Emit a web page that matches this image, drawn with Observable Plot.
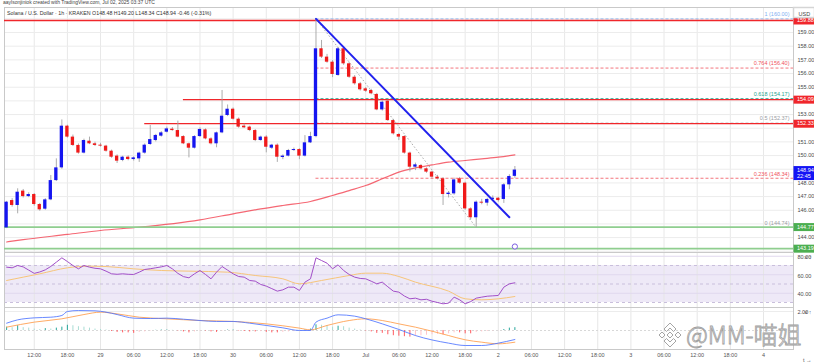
<!DOCTYPE html>
<html><head><meta charset="utf-8">
<script src="https://cdn.jsdelivr.net/npm/d3@7"></script>
<script src="https://cdn.jsdelivr.net/npm/@observablehq/plot@0.6"></script>
<style>
body{margin:0;background:#fff}
#root{position:relative;width:814px;height:364px;overflow:hidden;background:#fff;font-family:"Liberation Sans",Arial,sans-serif}
.txt{position:absolute;white-space:nowrap}
</style></head><body><div id="root"></div>
<script>
// ---------------- DATA ----------------
const firstBar = "2025-06-28T07:00:00Z"; // hourly bars, SOL/USD 1h KRAKEN
const opens  = [144.71,146.71,146.35,147.40,147.00,147.15,146.42,146.08,146.76,148.17,
  149.10,152.15,151.35,150.74,150.18,151.05,150.86,150.76,150.69,150.32,
  149.96,149.64,149.88,149.71,149.76,150.18,150.81,151.10,151.42,151.71,
  151.93,151.83,151.39,150.86,150.54,151.39,151.88,151.22,150.86,151.66,
  152.93,153.39,152.66,152.15,152.08,151.83,151.10,151.35,150.54,150.76,
  149.86,149.96,150.37,150.44,149.96,150.93,151.39,157.81,157.20,156.83,
  155.86,157.81,156.71,155.73,155.25,154.88,154.76,154.47,153.34,153.98,
  152.56,151.54,151.39,150.18,149.15,149.27,149.03,148.79,148.42,148.30,
  147.15,147.20,148.30,147.98,146.10,145.45,146.59,146.52,146.79,146.88,
  146.79,147.86,148.48];
const highs  = [146.65,146.85,147.57,147.52,147.28,147.22,146.50,146.85,148.54,149.76,
  152.61,152.22,151.50,150.85,151.20,151.35,150.98,150.90,150.75,150.40,
  150.05,149.95,149.98,149.90,150.25,150.85,152.20,151.55,151.75,152.08,
  152.05,152.52,151.45,150.92,151.45,152.03,151.95,151.30,151.72,154.76,
  153.70,153.48,152.75,152.30,152.15,151.90,151.42,151.45,150.82,150.85,
  150.05,150.45,150.55,150.50,151.46,151.70,160.00,158.42,157.40,156.95,
  157.90,157.95,156.80,155.85,155.35,154.98,154.85,154.55,154.00,154.05,
  152.65,151.62,151.45,150.25,149.45,149.35,149.10,148.85,148.55,148.38,
  147.35,148.35,148.40,148.05,146.18,146.68,146.80,146.88,147.05,146.95,
  147.95,148.60,149.20];
const lows   = [144.66,146.23,145.74,146.90,146.92,146.30,145.93,146.00,146.70,148.10,
  149.00,151.28,150.66,150.10,150.12,150.80,150.66,150.62,150.25,149.80,
  149.42,149.55,149.62,149.60,149.50,150.10,150.75,151.00,151.35,151.65,
  151.78,151.30,150.80,149.83,150.48,151.33,151.15,150.78,150.57,151.60,
  152.85,152.60,152.00,151.98,151.75,151.02,151.05,150.20,150.45,149.50,
  149.70,149.90,150.30,149.70,149.90,150.88,151.30,157.10,156.75,155.70,
  155.80,156.60,155.65,155.15,154.72,154.62,154.45,153.28,153.25,152.50,
  151.50,151.10,150.10,148.80,148.90,148.95,148.70,148.35,148.22,146.35,
  146.90,147.10,147.90,146.00,145.30,144.74,146.40,146.30,146.70,146.60,
  146.50,147.50,148.34];
const closes = [146.59,146.35,147.32,147.00,147.15,146.42,146.03,146.76,148.17,149.10,
  152.15,151.35,150.74,150.18,151.10,150.86,150.74,150.69,150.32,149.88,
  149.59,149.88,149.71,149.83,150.18,150.76,151.17,151.47,151.66,151.95,
  151.83,151.35,150.86,150.54,151.39,151.91,151.22,150.86,151.66,152.88,
  153.39,152.66,152.08,152.03,151.83,151.10,151.35,150.61,150.76,149.88,
  149.96,150.37,150.44,149.96,150.93,151.39,157.81,157.20,156.83,155.93,
  157.81,156.71,155.73,155.25,154.81,154.71,154.52,153.34,153.90,152.56,
  151.59,151.35,150.18,149.15,149.32,149.03,148.79,148.42,148.30,147.15,
  147.25,148.22,147.98,146.10,145.45,146.59,146.52,146.79,146.88,146.71,
  147.86,148.47,148.94];

// 200 EMA (red line), read at selected bars
const emaHours  = [0,3,11,17,24,35,41,46,50,55,59,62,65,68,71,74,77,80,83,86,89,92];
const emaValues = [143.68,143.85,144.23,144.52,144.76,145.30,145.74,146.10,146.35,146.64,147.08,147.44,147.81,148.30,148.79,149.10,149.32,149.52,149.64,149.76,149.88,150.05];

// horizontal resistance / support lines
const resistancePrices = [159.88, 154.09, 152.33];
const resistanceFromHour = [null, 32, 25];
const supportPrices = [144.77, 143.19];

// Fibonacci retracement (swing high bar 56 -> swing low bar 85)
const fibRatios = ["1", "0.764", "0.618", "0.5", "0.236", "0"];
const fibPrices = [160.00, 156.40, 154.17, 152.37, 148.34, 144.74];
const fibSwingHours = [56, 85];
const fibSwingPrices = [160.00, 144.74];

// blue down-trend line
const trendHours = [56, 91];
const trendPrices = [160.00, 145.49];

// price axis ticks
const priceTicks = [143,144,145,146,147,148,149,150,151,152,153,154,155,156,157,158,159,160];
const countdown = "22:45";

// RSI (per bar) and its moving average (read at selected bars)
const rsiValues = [68.2,67.5,70,68.5,65,61.5,63,65.3,69,73.6,
  78.3,74.3,70,66.4,70,68.2,67,66.4,63.9,61,
  60.5,61,60.5,60.3,62.8,65.7,66.5,67.5,68.5,70,
  66.4,61.5,58,56.7,61,64.6,60.3,55.6,62.8,68.9,
  65,61,58.1,57.4,53.8,53.1,49.5,47.7,45,42.3,
  43.7,46.6,46.6,43,52,55.6,78.3,75.4,72.5,66.4,
  70.7,64.6,60.3,57.4,56,55.6,53,50.2,52,47,
  42.3,41.2,37,34,34.7,32.9,33.5,31.4,30,28.6,
  29.3,35.8,32.9,28.6,31,34.7,35.8,36.8,37.2,37.6,
  46.6,50.2,51.3];
const rsiMaHours  = [0,3,6,11,15,18,23,28,33,40,45,50,53,57,62,65,68,71,74,80,83,86,89,92];
const rsiMaValues = [53.8,57.4,61,67.5,69.3,68.9,66.4,64.6,63.9,62.8,59.2,55.6,50.2,53.8,59.2,61.7,61.7,58.1,52,42.3,34,32.9,34,36.5];
const rsiBand = [30, 70];
const rsiDashed = [70, 50, 30];
const rsiTicks = [80, 60, 40];

// MACD
const macdHours  = [0,2,5,8,10,11,13,16,18,20,23,26,29,32,35,38,41,44,47,50,53,55,56,58,60,63,65,68,71,74,80,83,86,89,92];
const macdValues = [0.77,1.12,1.33,1.40,1.58,2.0,2.1,2.07,1.93,1.68,1.30,1.26,1.30,1.19,1.05,0.95,0.95,0.77,0.53,0.28,0.0,0.0,0.88,1.30,1.65,1.51,1.23,0.70,0.11,-0.53,-1.33,-1.58,-1.58,-1.33,-0.95];
const signalHours  = [0,5,10,14,17,20,24,29,35,41,47,53,55,58,62,65,68,71,74,80,83,86,89,92];
const signalValues = [0.35,0.88,1.23,1.68,1.93,1.75,1.40,1.23,1.05,0.95,0.70,0.25,0.07,0.53,1.05,1.23,1.05,0.70,0.35,-0.53,-0.98,-1.23,-1.40,-1.23];
const histValues = [0.35,0.30,0.50,0.30,0.25,0.15,0.10,0.20,0.15,0.25,
  0.35,0.55,0.50,0.40,0.35,0.25,0.15,0.10,0.05,-0.10,
  -0.20,-0.25,-0.25,-0.30,-0.20,-0.15,-0.05,0.02,0.05,0.05,
  0.02,-0.05,-0.15,-0.25,-0.15,-0.05,-0.05,-0.15,-0.20,-0.05,
  0.05,0.05,-0.05,-0.10,-0.15,-0.15,-0.12,-0.20,-0.25,-0.25,
  -0.20,-0.15,-0.12,-0.08,0.05,0.15,0.60,0.55,0.50,0.35,
  0.45,0.40,0.25,0.15,0.05,-0.05,-0.15,-0.30,-0.30,-0.45,
  -0.55,-0.60,-0.65,-0.70,-0.60,-0.55,-0.50,-0.45,-0.40,-0.45,
  -0.35,-0.25,-0.25,-0.35,-0.35,-0.20,-0.15,-0.10,-0.05,-0.02,
  0.10,0.25,0.30];
const macdTicks = [2];

// ---------------- BUILD ----------------
const HOUR = 3600e3;
const t0 = Date.parse(firstBar);
const at = k => new Date(t0 + k * HOUR);
const candles = opens.map((o, i) => ({t: at(i), o, h: highs[i], l: lows[i], c: closes[i]}));
const last = candles[candles.length - 1];
const ema = emaHours.map((k, i) => ({t: at(k), v: emaValues[i]}));
const xDomain = [new Date("2025-06-28T06:37:00Z"), new Date("2025-07-04T05:26:00Z")];
const ticks6h = d3.utcHour.every(6).range(xDomain[0], xDomain[1]);
const FONT = "Liberation Sans, Arial, sans-serif";
const FS = 5.5;
const W = 814, ML = 4, MR = 21;

const fib = fibRatios.map((r, i) => ({r, price: fibPrices[i], t: at(fibSwingHours[0]),
  color: ["#7fb0f2", "#f0525c", "#1fa58f", "#9a9ca3", "#f0525c", "#9a9ca3"][i]}));
const fibSwing = [{x1: at(fibSwingHours[0]), y1: fibSwingPrices[0], x2: at(fibSwingHours[1]), y2: fibSwingPrices[1]}];
const trend = trendHours.map((k, i) => ({t: at(k), v: trendPrices[i]}));
const resFull = resistancePrices.filter((p, i) => resistanceFromHour[i] == null);
const resPart = resistancePrices.map((p, i) => ({p, t: resistanceFromHour[i] == null ? null : at(resistanceFromHour[i])})).filter(d => d.t);

// rectangular tag symbol (drawn to the right of the anchor point)
const tagSymbol = h => ({draw(ctx) { ctx.moveTo(0, -h / 2); ctx.lineTo(21, -h / 2); ctx.lineTo(21, h / 2); ctx.lineTo(0, h / 2); ctx.closePath(); }});
const tags = [
  {y: resistancePrices[0], label: resistancePrices[0].toFixed(2), bg: "#f0262b"},
  {y: resistancePrices[1], label: resistancePrices[1].toFixed(2), bg: "#f0262b"},
  {y: resistancePrices[2], label: resistancePrices[2].toFixed(2), bg: "#f0262b"},
  {y: supportPrices[0], label: supportPrices[0].toFixed(2), bg: "#4caf50"},
  {y: supportPrices[1], label: supportPrices[1].toFixed(2), bg: "#4caf50"}
];
const lastTag = [{y: last.c - 0.22, label: last.c.toFixed(2) + "\n" + countdown, bg: "#1414f5"}];
// like TradingView, hide axis labels that sit under a coloured tag
const tagYs = tags.map(d => d.y).concat(lastTag.map(d => d.y));
const shownPriceTicks = priceTicks.filter(p => tagYs.every(y => Math.abs(p - y) > 0.5) && p < 159.5);

const root = document.getElementById("root");
function place(el, top) { el.style.position = "absolute"; el.style.left = "0px"; el.style.top = top + "px"; root.appendChild(el); }

const baseStyle = {fontFamily: FONT, fontSize: "5.5px", background: "transparent", overflow: "visible", color: "#444"};

// ---- price pane ----
const price = Plot.plot({
  width: W, height: 245, marginLeft: ML, marginRight: MR, marginTop: 0, marginBottom: 0,
  x: {type: "utc", domain: xDomain, axis: null},
  y: {domain: [142.91, 160.83], axis: null},
  color: {type: "identity"},
  style: baseStyle,
  marks: [
    Plot.gridX(ticks6h, {stroke: "#e8e8e8", strokeOpacity: 1}),
    Plot.gridY(priceTicks, {stroke: "#ececec", strokeOpacity: 1}),
    Plot.frame({stroke: "#c9c9c9"}),
    Plot.line(ema, {x: "t", y: "v", stroke: "#f23645", strokeOpacity: 0.75, strokeWidth: 1.2, curve: "monotone-x"}),
    Plot.ruleY(fib, {y: "price", x1: "t", x2: () => xDomain[1], stroke: "color", strokeOpacity: 0.8, strokeDasharray: "3,2"}),
    Plot.ruleY(supportPrices, {stroke: "#8fce8f", strokeWidth: 1.8}),
    Plot.ruleY(resFull, {stroke: "#f0262b", strokeWidth: 1.3}),
    Plot.ruleY(resPart, {y: "p", x1: "t", x2: () => xDomain[1], stroke: "#f0262b", strokeWidth: 1.3}),
    Plot.text(fib, {x: () => xDomain[1], y: "price", text: d => `${d.r} (${d.price.toFixed(2)})`, textAnchor: "end", dx: -4, dy: -4.5, fill: "color", fontSize: FS}),
    Plot.link(fibSwing, {x1: "x1", y1: "y1", x2: "x2", y2: "y2", stroke: "#a9a9a9", strokeDasharray: "1.5,2"}),
    Plot.ruleX(candles, {x: "t", y1: "l", y2: "h", stroke: "#a3a3a3", strokeWidth: 0.9}),
    Plot.rect(candles, {x1: d => new Date(+d.t - 18 * 60e3), x2: d => new Date(+d.t + 18 * 60e3), y1: "o", y2: "c",
      fill: d => d.c >= d.o ? "#1515f0" : "#f01a1a"}),
    Plot.line(trend, {x: "t", y: "v", stroke: "#2222ee", strokeWidth: 2}),
    Plot.dot([last], {x: "t", frameAnchor: "bottom", dy: -6, r: 2.6, stroke: "#7b5ce0", strokeWidth: 1, fill: "#fff"}),
    Plot.axisY(shownPriceTicks, {anchor: "right", tickSize: 0, tickPadding: 4, tickFormat: d => d.toFixed(2), fill: "#4a4a4a", fontSize: FS}),
    Plot.dot(tags, {y: "y", frameAnchor: "right", r: 4, symbol: tagSymbol(8), fill: "bg"}),
    Plot.text(tags, {y: "y", text: "label", frameAnchor: "right", textAnchor: "start", dx: 3.5, fill: "#fff", fontSize: FS}),
    Plot.dot(lastTag, {y: "y", frameAnchor: "right", r: 4, symbol: tagSymbol(14), fill: "bg"}),
    Plot.text(lastTag, {y: "y", text: "label", frameAnchor: "right", textAnchor: "start", dx: 3.5, fill: "#fff", lineHeight: 1.2, fontSize: FS}),
    Plot.dot(["USD"], {frameAnchor: "top-right", dy: 5, r: 4, symbol: tagSymbol(10), fill: "#fff", stroke: "#d5d5d5"}),
    Plot.text(["USD"], {frameAnchor: "top-right", dy: 5, dx: 5, textAnchor: "start", text: d => d, fill: "#444", fontSize: FS})
  ]
});
place(price, 7);

// ---- RSI pane ----
const rsi = rsiValues.map((v, i) => ({t: at(i), v}));
const rsiMa = rsiMaHours.map((k, i) => ({t: at(k), v: rsiMaValues[i]}));
const rsiPane = Plot.plot({
  width: W, height: 55, marginLeft: ML, marginRight: MR, marginTop: 0, marginBottom: 0,
  x: {type: "utc", domain: xDomain, axis: null},
  y: {domain: [24.6, 84.05], axis: null},
  style: baseStyle,
  marks: [
    Plot.rect([rsiBand], {y1: d => d[0], y2: d => d[1], fill: "#7e57c2", fillOpacity: 0.13}),
    Plot.gridX(ticks6h, {stroke: "#e6e6e6", strokeOpacity: 1}),
    Plot.gridY(rsiTicks, {stroke: "#e0d8ee", strokeOpacity: 1}),
    Plot.ruleY(rsiDashed, {stroke: "#c9bfdc", strokeDasharray: "3,3"}),
    Plot.frame({stroke: "#c9c9c9"}),
    Plot.line(rsiMa, {x: "t", y: "v", stroke: "#f7c57a", strokeWidth: 1, curve: "monotone-x"}),
    Plot.line(rsi, {x: "t", y: "v", stroke: "#a24fc8", strokeWidth: 1}),
    Plot.axisY(rsiTicks, {anchor: "right", tickSize: 0, tickPadding: 4, dy: 1.2, tickFormat: d => d.toFixed(2), fill: "#4a4a4a", fontSize: FS})
  ]
});
place(rsiPane, 252);

// ---- MACD pane + time axis ----
const hist = histValues.map((v, i) => ({t: at(i), v,
  color: v >= 0 ? (i > 0 && v < histValues[i - 1] ? "#a8dcd4" : "#26a69a")
               : (i > 0 && v > histValues[i - 1] ? "#ffc4c9" : "#ff5a5f")}));
const macd = macdHours.map((k, i) => ({t: at(k), v: macdValues[i]}));
const signal = signalHours.map((k, i) => ({t: at(k), v: signalValues[i]}));
const tickFmt = d => d.getUTCHours() === 0 ? (d.getUTCDate() === 1 ? d3.utcFormat("%b")(d) : String(d.getUTCDate())) : d3.utcFormat("%H:%M")(d);
const macdPane = Plot.plot({
  width: W, height: 57, marginLeft: ML, marginRight: MR, marginTop: 0, marginBottom: 15,
  x: {type: "utc", domain: xDomain, axis: null},
  y: {domain: [-2.0, 2.42], axis: null},
  color: {type: "identity"},
  style: baseStyle,
  marks: [
    Plot.gridX(ticks6h, {stroke: "#e6e6e6", strokeOpacity: 1}),
    Plot.gridY(macdTicks, {stroke: "#ececec", strokeOpacity: 1}),
    Plot.ruleY([0], {stroke: "#d8d8d8", strokeDasharray: "2,2"}),
    Plot.frame({stroke: "#c9c9c9"}),
    Plot.ruleX(hist, {x: "t", y1: 0, y2: "v", stroke: "color", strokeWidth: 1}),
    Plot.line(signal, {x: "t", y: "v", stroke: "#ff9c4a", strokeOpacity: 0.85, strokeWidth: 1, curve: "monotone-x"}),
    Plot.line(macd, {x: "t", y: "v", stroke: "#4f74ff", strokeOpacity: 0.85, strokeWidth: 1, curve: "monotone-x"}),
    Plot.axisY(macdTicks, {anchor: "right", tickSize: 0, tickPadding: 4, dy: 0.8, tickFormat: d => d.toFixed(2), fill: "#4a4a4a", fontSize: FS}),
    Plot.axisX(ticks6h, {anchor: "bottom", tickSize: 0, tickPadding: 4, tickFormat: tickFmt, fill: "#555", fontSize: FS})
  ]
});
place(macdPane, 307);

// ---- texts & watermark ----
const top1 = document.createElement("div");
top1.className = "txt";
top1.style.cssText += "left:3px;top:0px;font-size:5px;line-height:5.5px;color:#444";
top1.textContent = "aaylsonjiniok created with TradingView.com, Jul 02, 2025 03:37 UTC";
root.appendChild(top1);

const legend = document.createElement("div");
legend.className = "txt";
legend.style.cssText += "left:7px;top:10px;font-size:5.3px;color:#333";
legend.textContent = "Solana / U.S. Dollar · 1h · KRAKEN  O148.48  H149.20  L148.34  C148.94  -0.46 (-0.31%)";
root.appendChild(legend);

const logo = document.createElementNS("http://www.w3.org/2000/svg", "svg");
logo.setAttribute("width", 28); logo.setAttribute("height", 28); logo.setAttribute("viewBox", "0 0 28 28");
logo.style.cssText = "position:absolute;left:656px;top:321px";
logo.innerHTML = '<g fill="#fff" stroke="#a5a5a5" stroke-width="1" stroke-linejoin="round">' +
  '<path d="M14 2 L20 8 L17.5 10.5 L14 7 L10.5 10.5 L8 8 Z"/>' +
  '<path d="M14 26 L20 20 L17.5 17.5 L14 21 L10.5 17.5 L8 20 Z"/>' +
  '<path d="M14 11 L17 14 L14 17 L11 14 Z"/>' +
  '<path d="M6 11 L9 14 L6 17 L3 14 Z"/>' +
  '<path d="M22 11 L25 14 L22 17 L19 14 Z"/></g>';
root.appendChild(logo);

const wm = document.createElement("div");
wm.className = "txt";
wm.style.cssText += "left:686px;top:322px;font-size:24px;line-height:24px;height:24px;color:#fff;-webkit-text-stroke:0.8px #a0a0a0;font-family:'Noto Sans CJK SC','Noto Sans',sans-serif;font-weight:300";
wm.textContent = "@MM-喵姐";
root.appendChild(wm);
</script></body></html>
